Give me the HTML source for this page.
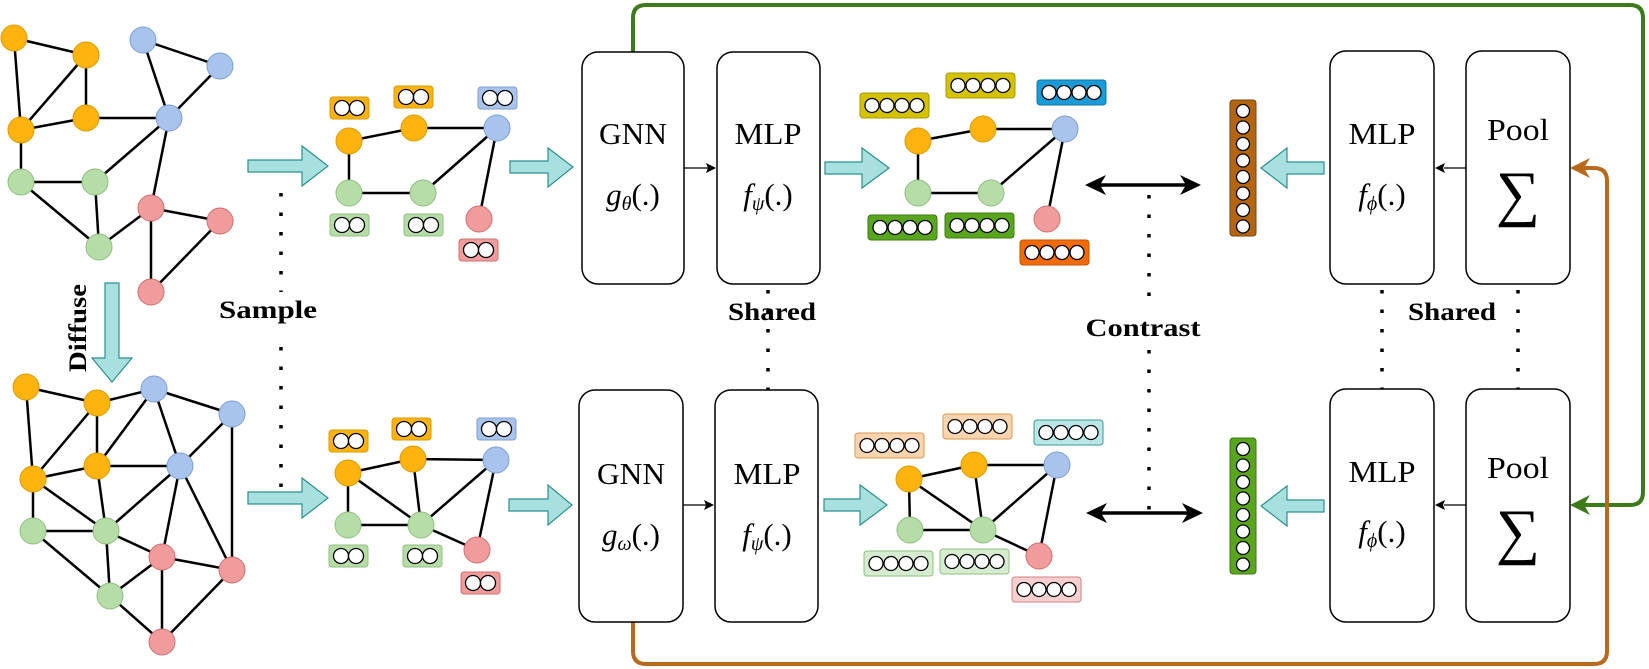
<!DOCTYPE html>
<html><head><meta charset="utf-8"><style>
html,body{margin:0;padding:0;background:#fff;}
svg{display:block;}
.t{font-family:"Liberation Serif",serif;fill:#000;}
.b{font-family:"Liberation Serif",serif;font-weight:bold;fill:#000;font-size:25px;}
</style></head><body>
<svg width="1649" height="669" viewBox="0 0 1649 669" xmlns="http://www.w3.org/2000/svg">
<defs>
<circle id="o" r="13" fill="#ffb30f" stroke="#d99b00"/>
<circle id="bl" r="13" fill="#a8c4ec" stroke="#7f9fd1"/>
<circle id="g" r="13" fill="#b6dca8" stroke="#8fc07f"/>
<circle id="r" r="13" fill="#f19c9c" stroke="#cf6f6f"/>
<g id="c2"><circle cx="12" cy="11" r="7.5" fill="#fff" stroke="#000" stroke-width="1.3"/><circle cx="27" cy="11" r="7.5" fill="#fff" stroke="#000" stroke-width="1.3"/></g>
<g id="c4"><circle cx="12" cy="12.5" r="7" fill="#fff" stroke="#000" stroke-width="1.3"/><circle cx="27" cy="12.5" r="7" fill="#fff" stroke="#000" stroke-width="1.3"/><circle cx="42" cy="12.5" r="7" fill="#fff" stroke="#000" stroke-width="1.3"/><circle cx="57" cy="12.5" r="7" fill="#fff" stroke="#000" stroke-width="1.3"/></g>
<g id="c8" fill="#fff" stroke="#000" stroke-width="1.3"><circle cx="13" cy="11" r="6.5"/><circle cx="13" cy="27.5" r="6.5"/><circle cx="13" cy="44" r="6.5"/><circle cx="13" cy="60.5" r="6.5"/><circle cx="13" cy="77" r="6.5"/><circle cx="13" cy="93.5" r="6.5"/><circle cx="13" cy="110" r="6.5"/><circle cx="13" cy="126.5" r="6.5"/></g>
</defs>

<!-- top-left graph -->
<g stroke="#000" stroke-width="2.5">
<line x1="14" y1="38" x2="86" y2="55"/><line x1="14" y1="38" x2="21" y2="130"/><line x1="86" y1="55" x2="21" y2="130"/><line x1="86" y1="55" x2="86" y2="118"/><line x1="21" y1="130" x2="86" y2="118"/><line x1="86" y1="118" x2="169" y2="118"/><line x1="143" y1="40" x2="220" y2="66"/><line x1="143" y1="40" x2="169" y2="118"/><line x1="220" y1="66" x2="169" y2="118"/><line x1="21" y1="130" x2="21" y2="182"/><line x1="21" y1="182" x2="95" y2="182"/><line x1="21" y1="182" x2="99" y2="247"/><line x1="95" y1="182" x2="99" y2="247"/><line x1="95" y1="182" x2="169" y2="118"/><line x1="169" y1="118" x2="151" y2="208"/><line x1="151" y1="208" x2="220" y2="221"/><line x1="151" y1="208" x2="151" y2="292"/><line x1="220" y1="221" x2="151" y2="292"/><line x1="99" y1="247" x2="151" y2="208"/>
</g>
<use href="#o" x="14" y="38"/><use href="#o" x="86" y="55"/><use href="#o" x="86" y="118"/><use href="#o" x="21" y="130"/>
<use href="#bl" x="143" y="40"/><use href="#bl" x="220" y="66"/><use href="#bl" x="169" y="118"/>
<use href="#g" x="21" y="182"/><use href="#g" x="95" y="182"/><use href="#g" x="99" y="247"/>
<use href="#r" x="151" y="208"/><use href="#r" x="220" y="221"/><use href="#r" x="151" y="292"/>

<!-- bottom-left graph -->
<g stroke="#000" stroke-width="2.5">
<line x1="26" y1="387" x2="97" y2="403"/><line x1="26" y1="387" x2="33" y2="479"/><line x1="97" y1="403" x2="154" y2="389"/><line x1="97" y1="403" x2="97" y2="466"/><line x1="97" y1="403" x2="33" y2="479"/><line x1="33" y1="479" x2="97" y2="466"/><line x1="97" y1="466" x2="180" y2="466"/><line x1="97" y1="466" x2="154" y2="389"/><line x1="97" y1="466" x2="106" y2="531"/><line x1="33" y1="479" x2="106" y2="531"/><line x1="33" y1="479" x2="33" y2="531"/><line x1="154" y1="389" x2="232" y2="414"/><line x1="154" y1="389" x2="180" y2="466"/><line x1="232" y1="414" x2="180" y2="466"/><line x1="232" y1="414" x2="232" y2="570"/><line x1="180" y1="466" x2="106" y2="531"/><line x1="180" y1="466" x2="162" y2="557"/><line x1="180" y1="466" x2="232" y2="570"/><line x1="33" y1="531" x2="106" y2="531"/><line x1="33" y1="531" x2="110" y2="596"/><line x1="106" y1="531" x2="110" y2="596"/><line x1="106" y1="531" x2="162" y2="557"/><line x1="110" y1="596" x2="162" y2="557"/><line x1="110" y1="596" x2="162" y2="642"/><line x1="162" y1="557" x2="232" y2="570"/><line x1="162" y1="557" x2="162" y2="642"/><line x1="232" y1="570" x2="162" y2="642"/>
</g>
<use href="#o" x="26" y="387"/><use href="#o" x="97" y="403"/><use href="#o" x="97" y="466"/><use href="#o" x="33" y="479"/>
<use href="#bl" x="154" y="389"/><use href="#bl" x="232" y="414"/><use href="#bl" x="180" y="466"/>
<use href="#g" x="33" y="531"/><use href="#g" x="106" y="531"/><use href="#g" x="110" y="596"/>
<use href="#r" x="162" y="557"/><use href="#r" x="232" y="570"/><use href="#r" x="162" y="642"/>

<!-- Diffuse -->
<polygon points="105,283 119,283 119,358 132,358 112,382 92,358 105,358" fill="#a8e0e0" stroke="#2a9090" stroke-width="1.2"/>
<text class="b" transform="translate(86,328) rotate(-90)" text-anchor="middle" textLength="88" lengthAdjust="spacingAndGlyphs">Diffuse</text>

<!-- Sample -->
<polygon points="248,160 302,160 302,146 328,166 302,186 302,172 248,172" fill="#a8e0e0" stroke="#2a9090" stroke-width="1.2"/>
<polygon points="248,492 302,492 302,478 328,498 302,518 302,504 248,504" fill="#a8e0e0" stroke="#2a9090" stroke-width="1.2"/>
<line x1="281" y1="193" x2="281" y2="292" stroke="#000" stroke-width="3.5" stroke-dasharray="3.5,16"/>
<line x1="281" y1="347" x2="281" y2="490" stroke="#000" stroke-width="3.5" stroke-dasharray="3.5,16"/>
<text class="b" x="268" y="318" text-anchor="middle" textLength="98" lengthAdjust="spacingAndGlyphs">Sample</text>

<!-- sampled top -->
<g stroke="#000" stroke-width="2.5">
<line x1="349" y1="141" x2="414" y2="128"/><line x1="414" y1="128" x2="497" y2="128"/><line x1="349" y1="141" x2="349" y2="193"/><line x1="349" y1="193" x2="423" y2="193"/><line x1="423" y1="193" x2="497" y2="128"/><line x1="497" y1="128" x2="479" y2="219"/>
</g>
<use href="#o" x="349" y="141"/><use href="#o" x="414" y="128"/><use href="#bl" x="497" y="128"/><use href="#g" x="349" y="193"/><use href="#g" x="423" y="193"/><use href="#r" x="479" y="219"/>
<rect x="330" y="97" width="39" height="22" rx="3" fill="#ffb30f" stroke="#d99b00"/><use href="#c2" x="330" y="97"/>
<rect x="394" y="86" width="39" height="22" rx="3" fill="#ffb30f" stroke="#d99b00"/><use href="#c2" x="394" y="86"/>
<rect x="478" y="87" width="39" height="22" rx="3" fill="#a8c4ec" stroke="#7f9fd1"/><use href="#c2" x="478" y="87"/>
<rect x="330" y="214" width="39" height="22" rx="3" fill="#b6dca8" stroke="#8fc07f"/><use href="#c2" x="330" y="214"/>
<rect x="404" y="214" width="39" height="22" rx="3" fill="#b6dca8" stroke="#8fc07f"/><use href="#c2" x="404" y="214"/>
<rect x="459" y="239" width="39" height="22" rx="3" fill="#f19c9c" stroke="#cf6f6f"/><use href="#c2" x="459" y="239"/>

<!-- sampled bottom -->
<g stroke="#000" stroke-width="2.5">
<line x1="348" y1="473" x2="413" y2="459"/><line x1="413" y1="459" x2="496" y2="460"/><line x1="348" y1="473" x2="348" y2="525"/><line x1="348" y1="473" x2="421" y2="525"/><line x1="413" y1="459" x2="421" y2="525"/><line x1="348" y1="525" x2="421" y2="525"/><line x1="421" y1="525" x2="496" y2="460"/><line x1="421" y1="525" x2="477" y2="550"/><line x1="496" y1="460" x2="477" y2="550"/>
</g>
<use href="#o" x="348" y="473"/><use href="#o" x="413" y="459"/><use href="#bl" x="496" y="460"/><use href="#g" x="348" y="525"/><use href="#g" x="421" y="525"/><use href="#r" x="477" y="550"/>
<rect x="329" y="430" width="39" height="22" rx="3" fill="#ffb30f" stroke="#d99b00"/><use href="#c2" x="329" y="430"/>
<rect x="392" y="418" width="39" height="22" rx="3" fill="#ffb30f" stroke="#d99b00"/><use href="#c2" x="392" y="418"/>
<rect x="477" y="418" width="39" height="22" rx="3" fill="#a8c4ec" stroke="#7f9fd1"/><use href="#c2" x="477" y="418"/>
<rect x="329" y="545" width="39" height="22" rx="3" fill="#b6dca8" stroke="#8fc07f"/><use href="#c2" x="329" y="545"/>
<rect x="403" y="545" width="39" height="22" rx="3" fill="#b6dca8" stroke="#8fc07f"/><use href="#c2" x="403" y="545"/>
<rect x="461" y="572" width="39" height="22" rx="3" fill="#f19c9c" stroke="#cf6f6f"/><use href="#c2" x="461" y="572"/>

<!-- feedback lines -->
<path d="M633,52 V18 Q633,5 646,5 H1630 Q1643,5 1643,18 V492 Q1643,505 1630,505 H1580" fill="none" stroke="#3c7a1a" stroke-width="4"/>
<polygon points="1570,505 1590,495 1584,505 1590,515" fill="#3c7a1a"/>
<path d="M633,622 V651 Q633,664 646,664 H1594 Q1607,664 1607,651 V181 Q1607,168 1594,168 H1580" fill="none" stroke="#b8691b" stroke-width="4"/>
<polygon points="1570,168 1590,158 1584,168 1590,178" fill="#b8691b"/>

<!-- arrows into GNN -->
<polygon points="510,161 548,161 548,148 573,167 548,187 548,173 510,173" fill="#a8e0e0" stroke="#2a9090" stroke-width="1.2"/>
<polygon points="509,499 548,499 548,485 572,505 548,525 548,511 509,511" fill="#a8e0e0" stroke="#2a9090" stroke-width="1.2"/>

<!-- GNN / MLP boxes -->
<g fill="#fff" stroke="#000" stroke-width="1.5">
<rect x="582" y="52" width="102" height="232" rx="16"/><rect x="717" y="52" width="103" height="232" rx="16"/>
<rect x="579" y="390" width="104" height="232" rx="16"/><rect x="715" y="390" width="103" height="232" rx="16"/>
<rect x="1330" y="51" width="104" height="233" rx="16"/><rect x="1466" y="51" width="104" height="233" rx="16"/>
<rect x="1330" y="389" width="104" height="233" rx="16"/><rect x="1466" y="389" width="104" height="233" rx="16"/>
</g>
<line x1="684" y1="168" x2="708" y2="168" stroke="#000" stroke-width="1.3"/><polygon points="716,168 706,163 708,168 706,173"/>
<line x1="683" y1="505" x2="706" y2="505" stroke="#000" stroke-width="1.3"/><polygon points="714,505 704,500 706,505 704,510"/>
<line x1="1466" y1="168" x2="1444" y2="168" stroke="#000" stroke-width="1.3"/><polygon points="1435,168 1445,163 1443,168 1445,173"/>
<line x1="1466" y1="505" x2="1444" y2="505" stroke="#000" stroke-width="1.3"/><polygon points="1435,505 1445,500 1443,505 1445,510"/>

<g class="t" font-size="31" text-anchor="middle">
<text x="633" y="144" textLength="68" lengthAdjust="spacingAndGlyphs">GNN</text><text x="631" y="484" textLength="68" lengthAdjust="spacingAndGlyphs">GNN</text>
<text x="768" y="144" textLength="67" lengthAdjust="spacingAndGlyphs">MLP</text><text x="767" y="484" textLength="67" lengthAdjust="spacingAndGlyphs">MLP</text>
<text x="1382" y="144" textLength="67" lengthAdjust="spacingAndGlyphs">MLP</text><text x="1382" y="482" textLength="67" lengthAdjust="spacingAndGlyphs">MLP</text>
<text x="1518" y="140" textLength="62" lengthAdjust="spacingAndGlyphs">Pool</text><text x="1518" y="478" textLength="62" lengthAdjust="spacingAndGlyphs">Pool</text>
<text x="633" y="205"><tspan font-style="italic">g</tspan><tspan font-style="italic" font-size="20" dy="5">θ</tspan><tspan dy="-5">(.)</tspan></text>
<text x="631" y="545"><tspan font-style="italic">g</tspan><tspan font-style="italic" font-size="20" dy="5">ω</tspan><tspan dy="-5">(.)</tspan></text>
<text x="768" y="205"><tspan font-style="italic">f</tspan><tspan font-style="italic" font-size="20" dy="5">ψ</tspan><tspan dy="-5">(.)</tspan></text>
<text x="767" y="545"><tspan font-style="italic">f</tspan><tspan font-style="italic" font-size="20" dy="5">ψ</tspan><tspan dy="-5">(.)</tspan></text>
<text x="1382" y="205"><tspan font-style="italic">f</tspan><tspan font-style="italic" font-size="20" dy="5">ϕ</tspan><tspan dy="-5">(.)</tspan></text>
<text x="1382" y="542"><tspan font-style="italic">f</tspan><tspan font-style="italic" font-size="20" dy="5">ϕ</tspan><tspan dy="-5">(.)</tspan></text>
<text x="1518" y="214" font-size="62">∑</text><text x="1518" y="552" font-size="62">∑</text>
</g>

<!-- Shared -->
<line x1="768" y1="290" x2="768" y2="390" stroke="#000" stroke-width="3.5" stroke-dasharray="3.5,16"/>
<text class="b" x="772" y="320" text-anchor="middle" textLength="88" lengthAdjust="spacingAndGlyphs">Shared</text>
<line x1="1382" y1="290" x2="1382" y2="389" stroke="#000" stroke-width="3.5" stroke-dasharray="3.5,16"/>
<line x1="1518" y1="290" x2="1518" y2="389" stroke="#000" stroke-width="3.5" stroke-dasharray="3.5,16"/>
<text class="b" x="1452" y="320" text-anchor="middle" textLength="88" lengthAdjust="spacingAndGlyphs">Shared</text>

<!-- arrows after MLP -->
<polygon points="825,162 862,162 862,148 889,168 862,188 862,174 825,174" fill="#a8e0e0" stroke="#2a9090" stroke-width="1.2"/>
<polygon points="824,499 860,499 860,485 887,505 860,525 860,511 824,511" fill="#a8e0e0" stroke="#2a9090" stroke-width="1.2"/>

<!-- middle top graph -->
<g stroke="#000" stroke-width="2.5">
<line x1="918" y1="141" x2="983" y2="129"/><line x1="983" y1="129" x2="1065" y2="129"/><line x1="918" y1="141" x2="918" y2="193"/><line x1="918" y1="193" x2="991" y2="193"/><line x1="991" y1="193" x2="1065" y2="129"/><line x1="1065" y1="129" x2="1047" y2="219"/>
</g>
<use href="#o" x="918" y="141"/><use href="#o" x="983" y="129"/><use href="#bl" x="1065" y="129"/><use href="#g" x="918" y="193"/><use href="#g" x="991" y="193"/><use href="#r" x="1047" y="219"/>
<rect x="860" y="93" width="69" height="25" rx="3" fill="#d4c200" stroke="#a89a00"/><use href="#c4" x="860" y="93"/>
<rect x="946" y="73" width="69" height="25" rx="3" fill="#d4c200" stroke="#a89a00"/><use href="#c4" x="946" y="73"/>
<rect x="1037" y="80" width="69" height="25" rx="3" fill="#1a9ad6" stroke="#0f78a8"/><use href="#c4" x="1037" y="80"/>
<rect x="868" y="215" width="69" height="25" rx="3" fill="#5aa51e" stroke="#3c7a10"/><use href="#c4" x="868" y="215"/>
<rect x="945" y="213" width="69" height="25" rx="3" fill="#5aa51e" stroke="#3c7a10"/><use href="#c4" x="945" y="213"/>
<rect x="1020" y="240" width="69" height="25" rx="3" fill="#f26a00" stroke="#c45500"/><use href="#c4" x="1020" y="240"/>

<!-- middle bottom graph -->
<g stroke="#000" stroke-width="2.5">
<line x1="909" y1="479" x2="974" y2="465"/><line x1="974" y1="465" x2="1057" y2="465"/><line x1="909" y1="479" x2="910" y2="530"/><line x1="909" y1="479" x2="983" y2="530"/><line x1="974" y1="465" x2="983" y2="530"/><line x1="910" y1="530" x2="983" y2="530"/><line x1="983" y1="530" x2="1057" y2="465"/><line x1="983" y1="530" x2="1039" y2="556"/><line x1="1057" y1="465" x2="1039" y2="556"/>
</g>
<use href="#o" x="909" y="479"/><use href="#o" x="974" y="465"/><use href="#bl" x="1057" y="465"/><use href="#g" x="910" y="530"/><use href="#g" x="983" y="530"/><use href="#r" x="1039" y="556"/>
<rect x="855" y="433" width="69" height="25" rx="3" fill="#fcd5b0" stroke="#d9954e"/><use href="#c4" x="855" y="433"/>
<rect x="943" y="414" width="69" height="25" rx="3" fill="#fcd5b0" stroke="#d9954e"/><use href="#c4" x="943" y="414"/>
<rect x="1034" y="420" width="69" height="25" rx="3" fill="#b9e6e6" stroke="#3a9a9a"/><use href="#c4" x="1034" y="420"/>
<rect x="864" y="551" width="69" height="25" rx="3" fill="#d6ecd0" stroke="#8fc07f"/><use href="#c4" x="864" y="551"/>
<rect x="940" y="549" width="69" height="25" rx="3" fill="#d6ecd0" stroke="#8fc07f"/><use href="#c4" x="940" y="549"/>
<rect x="1012" y="577" width="69" height="25" rx="3" fill="#f8d0d0" stroke="#d08080"/><use href="#c4" x="1012" y="577"/>

<!-- Contrast -->
<line x1="1149" y1="195" x2="1149" y2="310" stroke="#000" stroke-width="3.5" stroke-dasharray="3.5,16"/>
<line x1="1149" y1="350" x2="1149" y2="510" stroke="#000" stroke-width="3.5" stroke-dasharray="3.5,16"/>
<text class="b" x="1143" y="336" text-anchor="middle" textLength="115" lengthAdjust="spacingAndGlyphs">Contrast</text>
<line x1="1096" y1="185" x2="1190" y2="185" stroke="#000" stroke-width="3.5"/>
<polygon points="1085,185 1106,175 1100,185 1106,195"/><polygon points="1201,185 1180,175 1186,185 1180,195"/>
<line x1="1097" y1="513" x2="1192" y2="513" stroke="#000" stroke-width="3.5"/>
<polygon points="1086,513 1107,503 1101,513 1107,523"/><polygon points="1203,513 1182,503 1188,513 1182,523"/>

<!-- vectors -->
<rect x="1230" y="100" width="26" height="136" rx="3" fill="#b5650f" stroke="#7a4508"/><use href="#c8" x="1230" y="100"/>
<rect x="1230" y="438" width="26" height="136" rx="3" fill="#5aa51e" stroke="#3c7a10"/><use href="#c8" x="1230" y="438"/>
<polygon points="1324,162 1287,162 1287,148 1261,168 1287,188 1287,174 1324,174" fill="#a8e0e0" stroke="#2a9090" stroke-width="1.2"/>
<polygon points="1324,500 1287,500 1287,486 1261,506 1287,526 1287,512 1324,512" fill="#a8e0e0" stroke="#2a9090" stroke-width="1.2"/>
</svg>
</body></html>
